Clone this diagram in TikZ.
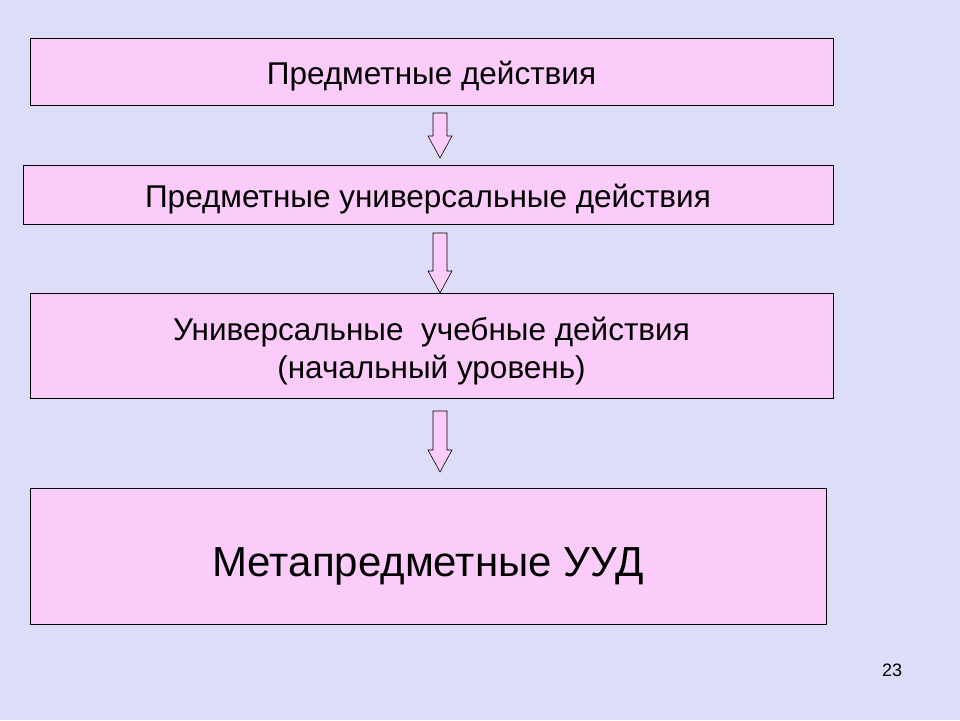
\documentclass[tikz,border=0pt]{standalone}
\usepackage{fontspec}
\setmainfont{Liberation Sans}
\definecolor{bgc}{HTML}{DDDDF9}
\definecolor{boxc}{HTML}{FBCCF9}
\begin{document}
\begin{tikzpicture}[x=1pt,y=-1pt,
  box/.style={draw=black,fill=boxc,line width=0.8pt,inner sep=0pt},
  txt/.style={font=\fontsize{31.5}{38}\selectfont,align=center},
  dn/.style={draw=black,fill=boxc,line width=0.6pt}]
\fill[bgc] (0,0) rectangle (960,720);
\useasboundingbox (0,0) rectangle (960,720);
\draw[box] (30,38) rectangle (833,105);
\node[txt] (t1) at (431.5,76) {Предметные действия};
\draw[box] (23,165) rectangle (833,224);
\node[txt] (t2) at (428,199) {Предметные универсальные действия};
\draw[box] (30,293) rectangle (833,398);
\node[txt] (t3) at (431.5,351) {Универсальные\ \ учебные действия\\(начальный уровень)};
\draw[box] (30,488) rectangle (826,624);
\node[font=\fontsize{42}{50}\selectfont] (t4) at (428,566) {Метапредметные УУД};
\foreach \a/\b in {113/158,233/293,411/472}{
  \draw[dn] (433,\a) -- (447,\a) -- (447,\b-22) -- (452,\b-22) -- (440,\b) -- (428,\b-22) -- (433,\b-22) -- cycle;
}
\node[font=\fontsize{18}{20}\selectfont] (pg) at (892,670) {23};
\end{tikzpicture}
\end{document}
